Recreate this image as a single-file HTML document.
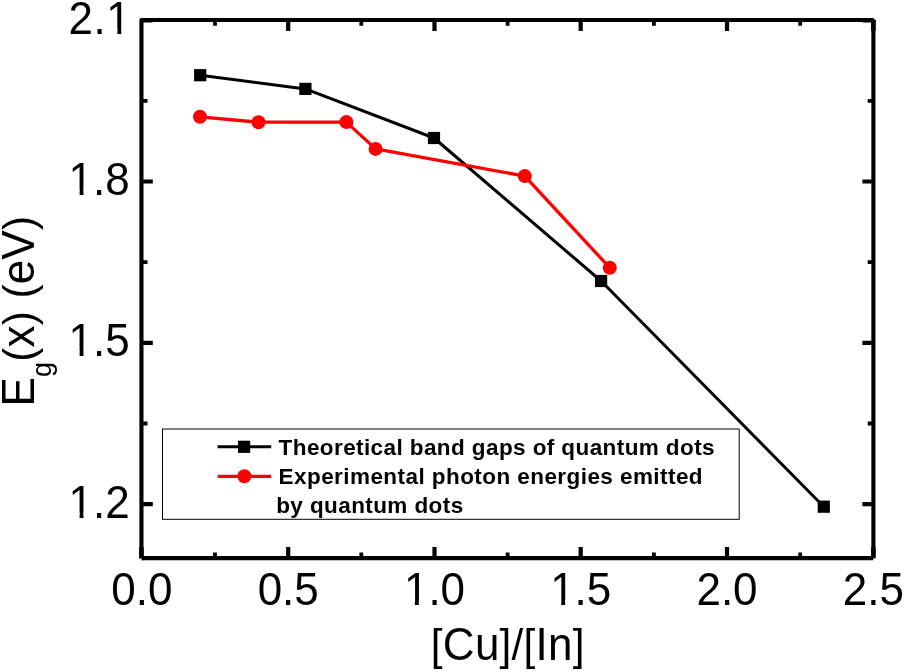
<!DOCTYPE html>
<html lang="en"><head><meta charset="utf-8"><title>Eg(x) vs [Cu]/[In]</title>
<style>html,body{margin:0;padding:0;background:#fff;}body{width:904px;height:671px;overflow:hidden;}svg{display:block;}text{font-family:"Liberation Sans",Arial,Helvetica,sans-serif;fill:#000;}</style>
</head><body>
<svg width="904" height="671" viewBox="0 0 904 671">
<rect x="0" y="0" width="904" height="671" fill="#fff"/>
<g stroke="#000" fill="none">
<path d="M141.45 558.15 V20.0 H873.4" stroke-width="4.1" stroke-linejoin="round" stroke-linecap="square"/>
<path d="M873.4 20.0 V558.15 H141.45" stroke-width="4.1" stroke-linejoin="miter" stroke-linecap="square"/>
<path stroke-width="4.6" d="M141.45 558.15 v-11 M873.4 558.15 v-11 M873.4 20.0 v11"/>
<path stroke-width="4.3" d="M141.45 20.25 h11 M873.4 20.25 h-11"/>
<g stroke-width="4.2">
<path d="M288.2 558.0 v-10.9 M288.2 20.1 v10.9"/>
<path d="M434.5 558.0 v-10.9 M434.5 20.1 v10.9"/>
<path d="M580.7 558.0 v-10.9 M580.7 20.1 v10.9"/>
<path d="M727.0 558.0 v-10.9 M727.0 20.1 v10.9"/>
<path d="M141.9 504.2 h10.9 M873.3 504.2 h-10.9"/>
<path d="M141.9 342.8 h10.9 M873.3 342.8 h-10.9"/>
<path d="M141.9 181.5 h10.9 M873.3 181.5 h-10.9"/>
</g><g stroke-width="3.8">
<path d="M215.0 558.0 v-5.6 M215.0 20.1 v5.6"/>
<path d="M361.3 558.0 v-5.6 M361.3 20.1 v5.6"/>
<path d="M507.6 558.0 v-5.6 M507.6 20.1 v5.6"/>
<path d="M653.9 558.0 v-5.6 M653.9 20.1 v5.6"/>
<path d="M800.2 558.0 v-5.6 M800.2 20.1 v5.6"/>
<path d="M141.9 423.5 h5.6 M873.3 423.5 h-5.6"/>
<path d="M141.9 262.2 h5.6 M873.3 262.2 h-5.6"/>
<path d="M141.9 100.8 h5.6 M873.3 100.8 h-5.6"/>
</g></g>
<rect x="873.8" y="17.4" width="2.6" height="2.1" fill="#fff"/>
<rect x="138.6" y="558.5" width="3.0" height="2.6" fill="#fff"/>
<rect x="873.2" y="558.4" width="3.2" height="2.6" fill="#fff"/>
<polyline points="200.2,75.2 305.4,88.9 434.0,138.0 601.1,281.0 823.8,506.7" fill="none" stroke="#000" stroke-width="3" stroke-linejoin="round"/>
<rect x="194.1" y="69.1" width="12.2" height="12.2" fill="#000"/>
<rect x="299.3" y="82.8" width="12.2" height="12.2" fill="#000"/>
<rect x="427.9" y="131.9" width="12.2" height="12.2" fill="#000"/>
<rect x="595.0" y="274.9" width="12.2" height="12.2" fill="#000"/>
<rect x="817.7" y="500.6" width="12.2" height="12.2" fill="#000"/>
<polyline points="200.0,116.8 258.5,122.2 346.4,122.1 375.6,148.9 524.8,176.1 609.8,267.8" fill="none" stroke="#fe0000" stroke-width="3.3" stroke-linejoin="round"/>
<circle cx="200.0" cy="116.8" r="7" fill="#fe0000"/>
<circle cx="258.5" cy="122.2" r="7" fill="#fe0000"/>
<circle cx="346.4" cy="122.1" r="7" fill="#fe0000"/>
<circle cx="375.6" cy="148.9" r="7" fill="#fe0000"/>
<circle cx="524.8" cy="176.1" r="7" fill="#fe0000"/>
<circle cx="609.8" cy="267.8" r="7" fill="#fe0000"/>
<rect x="162.5" y="429" width="576.7" height="90.3" fill="#fff" stroke="#000" stroke-width="1"/>
<path d="M217.6 446.7 H271.2" stroke="#000" stroke-width="3"/>
<rect x="238" y="440.7" width="12.2" height="12.2" fill="#000"/>
<path d="M217.6 476.4 H271.2" stroke="#fe0000" stroke-width="3.3"/>
<circle cx="244.4" cy="476.2" r="7" fill="#fe0000"/>
<g font-size="22.5" font-weight="bold">
<text transform="translate(278.6 455.0) scale(1 1.0)" textLength="436" lengthAdjust="spacing">Theoretical band gaps of quantum dots</text>
<text transform="translate(278.6 484.4) scale(1 1.0)" textLength="424" lengthAdjust="spacing">Experimental photon energies emitted</text>
<text transform="translate(276.2 513.3) scale(1 1.0)" textLength="187" lengthAdjust="spacing">by quantum dots</text>
</g>
<g font-size="44">
<text transform="translate(130.8 33.5) scale(1 1.04)" text-anchor="end">2<tspan dx="0.6">.</tspan><tspan dx="0.5">1</tspan></text>
<text transform="translate(129.7 194.9) scale(1 1.04)" text-anchor="end">1.8</text>
<text transform="translate(129.7 356.2) scale(1 1.04)" text-anchor="end">1.5</text>
<text transform="translate(129.7 517.6) scale(1 1.04)" text-anchor="end">1.2</text>
<text transform="translate(141.9 605.0) scale(1 1.04)" text-anchor="middle">0.0</text>
<text transform="translate(288.2 605.0) scale(1 1.04)" text-anchor="middle">0.5</text>
<text transform="translate(434.5 605.0) scale(1 1.04)" text-anchor="middle">1.0</text>
<text transform="translate(580.7 605.0) scale(1 1.04)" text-anchor="middle">1.5</text>
<text transform="translate(727.0 605.0) scale(1 1.04)" text-anchor="middle">2.0</text>
<text transform="translate(873.3 605.0) scale(1 1.04)" text-anchor="middle">2.5</text>
<text transform="translate(507.7 660.4) scale(1 1.04)" text-anchor="middle" textLength="153.7" lengthAdjust="spacing"><tspan font-size="42.3">[</tspan>Cu<tspan font-size="42.3">]/[</tspan>In<tspan font-size="42.3">]</tspan></text>
<text transform="translate(34 406.5) rotate(-90) scale(1 1.04)" textLength="190.5" lengthAdjust="spacing">E<tspan font-size="27" dy="16">g</tspan><tspan dy="-16" font-size="42.3">(</tspan>x<tspan font-size="42.3">)</tspan> <tspan font-size="42.3">(</tspan>eV<tspan font-size="42.3">)</tspan></text>
</g>
<g fill="#fff"><rect x="108.18" y="28.48" width="9.21" height="6.02"/><rect x="121.28" y="28.48" width="8.17" height="6.02"/><rect x="70.39" y="189.85" width="9.21" height="6.02"/><rect x="83.49" y="189.85" width="8.17" height="6.02"/><rect x="70.39" y="351.22" width="9.21" height="6.02"/><rect x="83.49" y="351.22" width="8.17" height="6.02"/><rect x="70.39" y="512.59" width="9.21" height="6.02"/><rect x="83.49" y="512.59" width="8.17" height="6.02"/><rect x="405.73" y="599.98" width="9.21" height="6.02"/><rect x="418.83" y="599.98" width="8.17" height="6.02"/><rect x="552.01" y="599.98" width="9.21" height="6.02"/><rect x="565.11" y="599.98" width="8.17" height="6.02"/></g>
</svg>
</body></html>
